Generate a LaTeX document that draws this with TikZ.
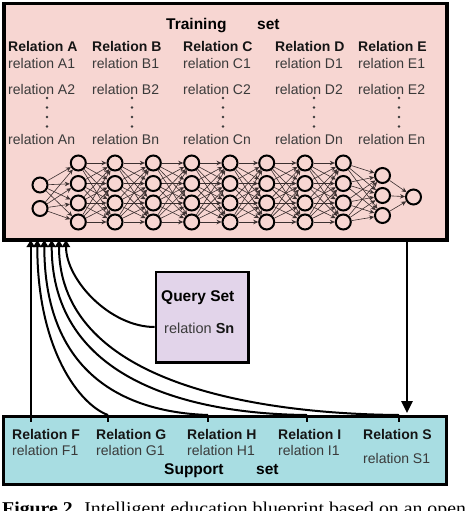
\documentclass[tikz,border=0pt]{standalone}
\usepackage{fontspec}
\usepackage{graphicx}
\setmainfont{Liberation Sans}
\newfontfamily\capfont{Liberation Serif}
\usetikzlibrary{arrows.meta}
\definecolor{trainpink}{HTML}{F7D6D2}
\definecolor{supcyan}{HTML}{A8DDE2}
\definecolor{querylav}{HTML}{E2D4EA}
\definecolor{edgegray}{HTML}{3B3030}
\definecolor{txtdark}{HTML}{151515}
\definecolor{txtgray}{HTML}{3A3A3A}
\tikzset{
  tbox/.style={draw=black, line width=3.5pt, fill=trainpink, rectangle, inner sep=0, anchor=north west},
  sbox/.style={draw=black, line width=3.3pt, fill=supcyan, rectangle, inner sep=0, anchor=north west},
  qbox/.style={draw=black, line width=2.5pt, fill=querylav, rectangle, inner sep=0, anchor=north west},
  nn/.style={circle, draw=black, line width=2pt, fill=trainpink, minimum size=15pt, inner sep=0},
  nnedge/.style={draw=edgegray, line width=0.6pt, -{Stealth[length=5pt,width=4.5pt]}},
  hdr/.style={anchor=base west, inner sep=0, text=txtdark, font=\fontsize{14}{14}\selectfont\bfseries},
  itm/.style={anchor=base west, inner sep=0, text=txtgray, font=\fontsize{14}{14}\selectfont},
  ttl/.style={anchor=base west, inner sep=0, text=black, font=\fontsize{15.5}{15.5}\selectfont\bfseries},
  link/.style={draw=black, line width=2pt, -{Triangle[length=7pt,width=8pt]}},
  tick/.style={draw=black, line width=2pt},
  bigarrow/.style={draw=black, line width=2.5pt, -{Triangle[length=12pt,width=11pt]}},
  vdot/.style={fill=txtgray}
}
\begin{document}
\begin{tikzpicture}[x=1pt,y=-1pt]
\useasboundingbox (0,0) rectangle (474,511);
\clip (0,0) rectangle (474,511);
% boxes
\node[tbox, minimum width=443pt, minimum height=236pt] (train) at (2,2) {};
\node[sbox, minimum width=443.3pt, minimum height=67.5pt] (sup) at (1.7,415) {};
\node[qbox, minimum width=92.3pt, minimum height=90.5pt] (query) at (154.7,270.5) {};
% training texts
\node[ttl] (ttrain) at (166,30) {Training};
\node[ttl] (tset) at (257,30) {set};
\foreach \x/\L in {8/A,92/B,183/C,275/D,358/E}{
  \node[hdr] (h\L) at (\x,51.5) {Relation \L};
  \node[itm] (r\L1) at (\x,69) {relation \L1};
  \node[itm] (r\L2) at (\x,94) {relation \L2};
  \node[itm] (r\L n) at (\x,144) {relation \L n};
}
\foreach \x in {47,132,223,314,399}{
  \foreach \y in {98,107.5,117,126.5}{
    \fill[vdot] (\x,\y) circle (1.3pt);
  }
}
% neural net
\foreach \y [count=\k] in {185,208.5} \node[nn] (n-0-\k) at (40,\y) {};
\foreach \x [count=\l] in {78.3,115,153.3,191.7,230,266.7,305,343.3}{
  \foreach \y [count=\k] in {163,183.5,203,222} \node[nn] (n-\l-\k) at (\x,\y) {};
}
\foreach \y [count=\k] in {175.5,195.5,215.5} \node[nn] (n-9-\k) at (382.5,\y) {};
\node[nn] (n-10-1) at (413.5,197) {};
\foreach \a in {1,2}{\foreach \b in {1,...,4}{\draw[nnedge] (n-0-\a) -- (n-1-\b);}}
\foreach \l/\m in {1/2,2/3,3/4,4/5,5/6,6/7,7/8}{
  \foreach \a in {1,...,4}{\foreach \b in {1,...,4}{\draw[nnedge] (n-\l-\a) -- (n-\m-\b);}}
}
\foreach \a in {1,...,4}{\foreach \b in {1,2,3}{\draw[nnedge] (n-8-\a) -- (n-9-\b);}}
\foreach \a in {1,2,3}{\draw[nnedge] (n-9-\a) -- (n-10-1);}
% query texts
\node[ttl] (qt) at (161,301.5) {Query Set};
\node[anchor=base west, inner sep=0, text=txtgray, font=\fontsize{14.5}{14.5}\selectfont] (qr) at (164,333) {relation \textbf{\color{txtdark}Sn}};
% support texts
\foreach \x/\L in {12/F,96/G,187/H,278/I}{
  \node[hdr] (s\L) at (\x,439.5) {Relation \L};
  \node[itm] (s\L1) at (\x,455.5) {relation \L1};
}
\node[hdr] (sS) at (363,439.5) {Relation S};
\node[itm] (sS1) at (363,463) {relation S1};
\node[ttl] (tsup) at (164,474) {Support};
\node[ttl] (tsset) at (256,474) {set};
% connector coordinates
\coordinate (aF) at (30.7,240);
\coordinate (aG) at (37.3,240);
\coordinate (aH) at (44.3,240);
\coordinate (aI) at (51.7,240);
\coordinate (aS) at (59,240);
\coordinate (aQ) at (66,240);
\coordinate (bF) at (30.7,415);
\coordinate (bG) at (108,415);
\coordinate (bH) at (208,415);
\coordinate (bI) at (307,415);
\coordinate (bS) at (399,415);
\coordinate (qL) at (154.7,327);
\coordinate (rTop) at (407,240);
\coordinate (rBot) at (407,413);
% ticks
\foreach \t in {bF,bG,bH,bI,bS}{\draw[tick] (\t) -- ++(0,7);}
% connectors
\draw[link] (bF) -- (aF);
\draw[link] (bG) .. controls (80,405) and (37.3,350) .. (aG);
\draw[link] (bH) .. controls (120,412) and (44.3,370) .. (aH);
\draw[link] (bI) .. controls (190,414) and (51.7,380) .. (aI);
\draw[link] (bS) .. controls (270,414) and (59,388) .. (aS);
\draw[link] (query.west |- qL) .. controls (110,327) and (66,280) .. (aQ);
\draw[bigarrow] (rTop) -- (rBot);
% caption (cut off at the bottom edge, as in the reference)
\node[anchor=base west, inner sep=0] (cap) at (2,514) {\capfont\fontsize{18}{18}\selectfont\scalebox{1.1}[1]{\textbf{Figure 2.} Intelligent education blueprint based on an open}};
\end{tikzpicture}
\end{document}
